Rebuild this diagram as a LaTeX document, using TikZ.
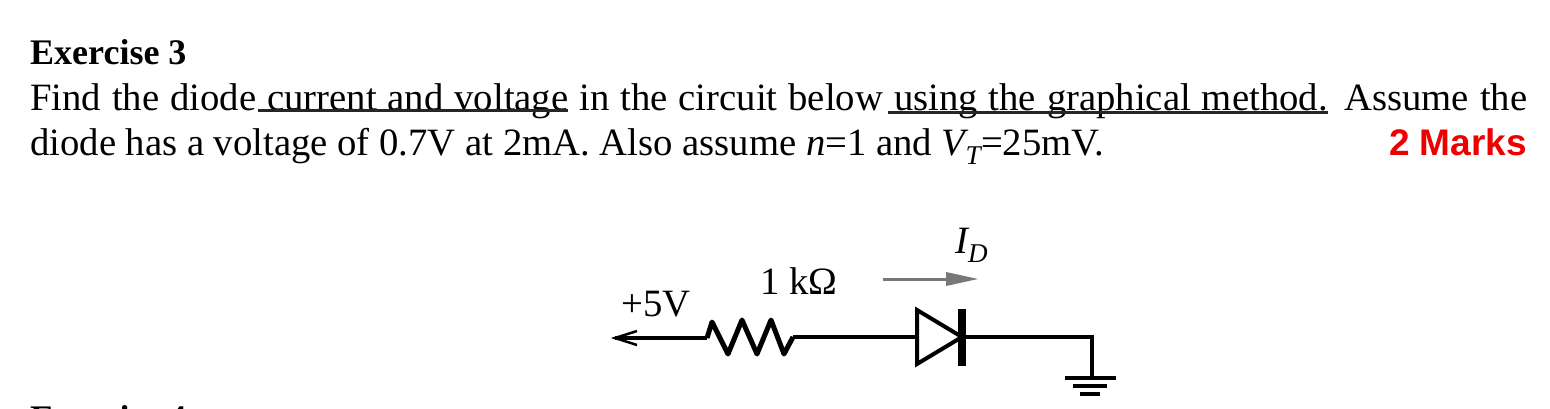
\documentclass[tikz,border=0pt]{standalone}
\usepackage{fontspec}
\setmainfont{Liberation Serif}
\newfontfamily\marksfont{Liberation Sans}
\definecolor{markred}{RGB}{238,0,0}
\definecolor{arrgray}{RGB}{120,120,120}
\begin{document}
\begin{tikzpicture}[x=1pt,y=-1pt,
  txt/.style={inner sep=0pt,anchor=base west,font=\fontsize{38.7}{45}\selectfont},
  wire/.style={line width=4pt},
  uline/.style={line width=3pt,color=black!85}]
\useasboundingbox (0,0) rectangle (1550,408);
\clip (0,0) rectangle (1550,408);
\node[txt,font=\fontsize{36}{45}\selectfont\bfseries] (ex3) at (30,64) {Exercise 3};
\node[txt,text width=1497pt,align=justify] (para) at (30,110) {Find the diode current and voltage in the circuit below using the graphical method. Assume the\linebreak diode has a voltage of 0.7V at 2mA. Also assume \textit{n}=1 and \textit{V\textsubscript{T}}=25mV.};
\node[inner sep=0pt,anchor=base east,font=\fontsize{37}{40}\selectfont\marksfont\bfseries,text=markred] (marks) at (1527,155) {2 Marks};
\draw[uline] (258,110) -- (568,110);
\draw[uline] (888,112) -- (1328,112);
\node[txt,font=\fontsize{36}{45}\selectfont\bfseries] (ex4) at (30,430) {Exercise 4};
% circuit
\coordinate (vs) at (615,338);
\coordinate (r1) at (707,338);
\coordinate (r2) at (793,337);
\coordinate (da) at (917,337);
\coordinate (dk) at (962,337);
\coordinate (gc) at (1092,337);
\coordinate (g) at (1092,378);
\draw[line width=3.5pt] (r1) -- (vs);
\draw[line width=2.5pt] (vs) ++(22,-7) -- (vs) -- ++(22,7);
\draw[line width=5pt,line join=round] (r1) -- (712,322) -- (728,354) -- (742,320) -- (757,354) -- (771,320) -- (784,354) -- (r2);
\draw[wire] (r2) -- (da);
\draw[wire,line join=miter] (917,310) -- (917,364) -- (dk) -- cycle;
\draw[line width=8pt] (962,309) -- (962,366);
\draw[wire] (dk) -- (gc) -- (g);
\draw[line width=4pt] (1065,378) -- (1116,378);
\draw[line width=4pt] (1073,386) -- (1107,386);
\draw[line width=4pt] (1080,394) -- (1100,394);
\draw[arrgray,line width=3pt] (883,279) -- (950,279);
\fill[arrgray] (978,279) -- (946,272) -- (946,286) -- cycle;
\node[txt] (id) at (955,253) {\textit{I\textsubscript{D}}};
\node[txt] (rl) at (760,294) {1 kΩ};
\node[txt] (v5) at (621,316) {+5V};
\end{tikzpicture}
\end{document}
